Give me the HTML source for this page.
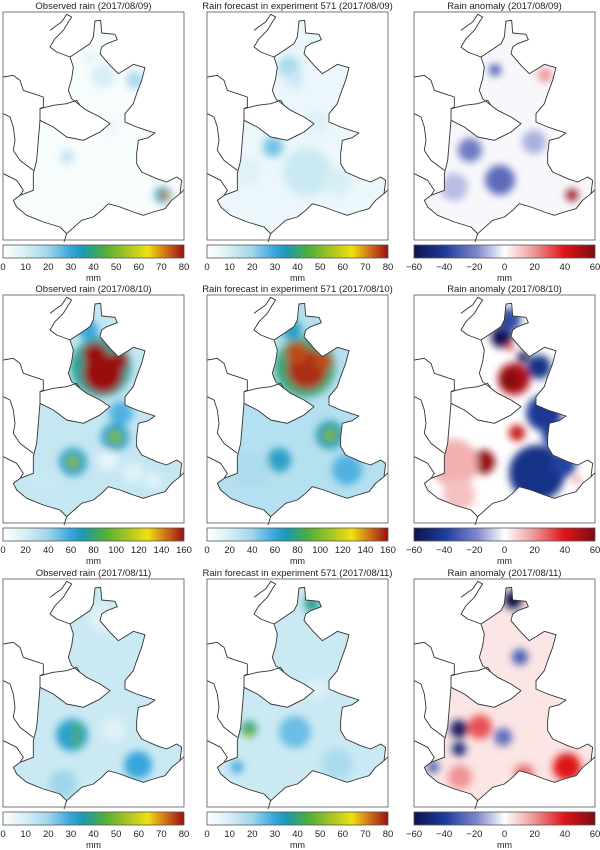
<!DOCTYPE html>
<html><head><meta charset="utf-8"><style>
html,body{margin:0;padding:0;background:#fff;width:600px;height:850px;overflow:hidden}
body{position:relative;font-family:"Liberation Sans",sans-serif;}
svg{position:absolute;left:0;top:0}
</style></head><body>
<svg id="fig" width="600" height="850"></svg>
<script>
// ---- chart data ----
const rainTicks1 = [0,10,20,30,40,50,60,70,80];
const rainTicks2 = [0,20,40,60,80,100,120,140,160];
const anomTicks = [-60,-40,-20,0,20,40,60];
const titles = [
 "Observed rain (2017/08/09)","Rain forecast in experiment 571 (2017/08/09)","Rain anomaly (2017/08/09)",
 "Observed rain (2017/08/10)","Rain forecast in experiment 571 (2017/08/10)","Rain anomaly (2017/08/10)",
 "Observed rain (2017/08/11)","Rain forecast in experiment 571 (2017/08/11)","Rain anomaly (2017/08/11)"];
const baseValues = [2,5,-1, 26,32,0, 12,12,5];
// rain cells: [x, y, radius, value] in map-local units
const cells1 = [[132,68,9,18],[100,64,12,10],[87,46,4,12],[64,145,7,14],[149,121,4,12],[107,115,8,5],[160,183,8,35],[162,183,4,70]];
const cells2 = [[82,55,11,18],[88,68,9,12],[66,135,10,24],[100,160,24,12],[130,170,14,10],[110,110,12,8],[40,160,14,8]];
const cells3 = [[81,58,6,-30],[131,63,7,20],[56,138,12,-22],[86,168,15,-26],[120,130,12,-12],[40,175,14,-10],[158,183,6,55]];
const cells4 = [[98,72,30,75],[100,78,20,160],[92,60,12,160],[116,66,9,160],[85,35,10,60],[118,118,12,55],[112,142,14,65],[112,142,7,100],[70,167,14,65],[70,167,7,100],[105,165,10,12],[130,178,10,15],[150,186,8,15],[40,185,15,25]];
const cells5 = [[98,72,30,80],[100,74,20,155],[90,58,11,150],[116,66,9,150],[85,35,10,65],[123,140,14,70],[123,140,7,100],[72,165,12,65],[140,175,15,55],[45,175,18,35]];
const cells6 = [[88,42,11,-60],[109,62,6,-55],[95,25,12,-35],[125,72,12,-45],[100,84,16,50],[95,85,8,60],[96,52,4,30],[130,118,18,-42],[140,140,12,-40],[103,138,8,45],[69,167,12,55],[40,168,24,15],[45,200,16,12],[123,178,28,-45],[150,170,12,-38],[163,185,4,20]];
const cells7 = [[69,156,16,32],[74,150,5,45],[74,162,5,45],[135,186,14,30],[60,205,14,20],[110,150,12,8],[100,40,14,8]];
const cells8 = [[105,25,8,38],[42,150,8,40],[42,155,4,52],[88,153,16,25],[110,110,10,8],[130,185,16,18],[30,188,6,30]];
const cells9 = [[99,21,9,-60],[106,78,8,-30],[89,158,9,-25],[45,150,9,-55],[45,170,7,-50],[66,148,12,30],[153,188,14,40],[46,198,12,20],[19,188,6,-30],[110,195,10,25]];
const allCells = [cells1,cells2,cells3,cells4,cells5,cells6,cells7,cells8,cells9];

const NS="http://www.w3.org/2000/svg";
const svg=document.getElementById('fig');
function mk(t,a,p){const e=document.createElementNS(NS,t);for(const k in a)e.setAttribute(k,a[k]);(p||svg).appendChild(e);return e;}
const rainStops=[[0,'#ffffff'],[0.12,'#d8eff6'],[0.25,'#9fd6ea'],[0.37,'#3aa6de'],[0.44,'#1a9ab0'],[0.56,'#4fae3a'],[0.7,'#b0c820'],[0.8,'#f0e010'],[0.9,'#d07018'],[1,'#9a0e10']];
const anomStops=[[0,'#10104e'],[0.17,'#1c3c9c'],[0.35,'#8088cc'],[0.5,'#ffffff'],[0.65,'#f0a0a0'],[0.83,'#e01418'],[1,'#7a0c10']];
function hex(h){return [1,3,5].map(i=>parseInt(h.substr(i,2),16));}
function cmap(stops,t){t=Math.max(0,Math.min(1,t));for(let i=1;i<stops.length;i++){if(t<=stops[i][0]){const a=stops[i-1],b=stops[i];const f=(t-a[0])/(b[0]-a[0]);const A=hex(a[1]),B=hex(b[1]);return 'rgb('+A.map((v,j)=>Math.round(v+(B[j]-v)*f)).join(',')+')';}}return stops[stops.length-1][1];}

// outline traced at 3x scale
const mainPoly=[[285,42],[302,40],[305,78],[345,82],[352,98],[320,110],[305,120],[300,140],[330,175],[355,200],[380,185],[400,172],[435,182],[425,220],[410,260],[400,290],[375,320],[375,345],[410,360],[440,370],[465,378],[445,392],[415,400],[410,440],[410,470],[425,495],[470,515],[500,525],[530,510],[545,520],[540,560],[515,580],[495,605],[460,615],[430,625],[400,615],[360,600],[325,590],[305,610],[280,630],[245,640],[200,680],[180,660],[130,645],[80,625],[50,600],[40,580],[60,565],[100,550],[100,500],[110,460],[115,400],[120,340],[160,360],[200,390],[250,400],[290,380],[300,375],[330,350],[300,330],[260,310],[240,295],[215,275],[205,250],[215,215],[220,180],[210,150],[240,130],[270,110],[280,90]];
const extraLines=[
 [[150,70],[170,55],[185,45],[200,22],[215,30],[205,45],[190,70],[165,95],[150,120],[170,135],[210,150]],
 [[10,210],[40,205],[60,220],[70,250],[100,260],[130,270],[130,300],[120,305],[120,340]],
 [[120,305],[160,295],[200,290],[230,280],[240,295]],
 [[10,320],[30,330],[40,360],[45,400],[40,430],[60,460],[100,490]],
 [[10,500],[50,520],[70,550],[60,565]],
 [[200,680],[192,705]],
 [[540,560],[552,548]]
];
const pts=a=>a.map(p=>p.join(',')).join(' ');

const colX=[3,207,414], rowY=[12,295,579], W=181, H=228;
for(let i=0;i<9;i++){
  const r=Math.floor(i/3),c=i%3, x0=colX[c], y0=rowY[r];
  const anom=(c===2), vmin=anom?-60:0, vmax=anom?60:(r===1?160:80);
  const stops=anom?anomStops:rainStops;
  const g=mk('g',{transform:`translate(${x0},${y0})`});
  
  
  const t=mk('text',{x:W/2,y:-3,'text-anchor':'middle','font-size':'9.5',fill:'#222'},g);
  t.textContent=titles[i];
  
  
  const cp=mk('clipPath',{id:'cp'+i},g); mk('polygon',{points:pts(mainPoly),transform:'translate(-3,-5) scale(0.33333)'},cp);
  mk('filter',{id:'bl'+i,x:'-50%',y:'-50%',width:'200%',height:'200%'},g); mk('feGaussianBlur',{stdDeviation:'4'},g.lastChild);
  const fg=mk('g',{'clip-path':`url(#cp${i})`},g);
  
  
  mk('rect',{x:0,y:0,width:W,height:H,fill:cmap(stops,(baseValues[i]-vmin)/(vmax-vmin))},fg);
  const bg=mk('g',{filter:`url(#bl${i})`},fg);
  allCells[i].forEach(cl=>{
    const e=mk('circle',{cx:cl[0],cy:cl[1],r:cl[2],fill:cmap(stops,(cl[3]-vmin)/(vmax-vmin))},bg);
    
    
  });
  const sg=mk('g',{transform:'translate(-3,-5) scale(0.33333)'},g);
  mk('polygon',{points:pts(mainPoly),fill:'none',stroke:'#333','stroke-width':'2.7','stroke-linejoin':'round'},sg);
  extraLines.forEach(l=>mk('polyline',{points:pts(l),fill:'none',stroke:'#333','stroke-width':'2.7','stroke-linejoin':'round'},sg));
  const fr=mk('rect',{x:0,y:0,width:W,height:H,fill:'none',stroke:'#555','stroke-width':'0.8'},g);
  
  
  // colorbar
  const gid='gr'+i; const lg=mk('linearGradient',{id:gid},g);
  stops.forEach(s=>mk('stop',{offset:s[0],'stop-color':s[1]},lg));
  const cbY=H+5;
  const cb=mk('rect',{x:0,y:cbY,width:W,height:13,fill:`url(#${gid})`,stroke:'#555','stroke-width':'0.8'},g);
  
  
  const ticks=anom?anomTicks:(r===1?rainTicks2:rainTicks1);
  ticks.forEach(v=>{
    const tx=mk('text',{x:(v-vmin)/(vmax-vmin)*W,y:cbY+25,'text-anchor':'middle','font-size':'9.5',fill:'#222'},g);
    tx.textContent=(v<0?'\u2212'+(-v):v);
    
    
  });
  const mm=mk('text',{x:W/2,y:cbY+36,'text-anchor':'middle','font-size':'9',fill:'#222'},g);
  mm.textContent='mm';
  
  
}
</script>
</body></html>
